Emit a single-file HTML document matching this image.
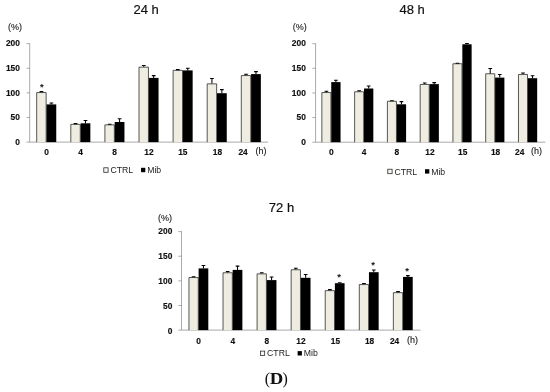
<!DOCTYPE html>
<html><head><meta charset="utf-8"><title>Figure D</title>
<style>
html,body{margin:0;padding:0;background:#fff;}
body{width:550px;height:392px;overflow:hidden;}
svg{display:block;font-family:"Liberation Sans", sans-serif;}
</style></head><body>
<svg width="550" height="392" viewBox="0 0 550 392">
<rect width="550" height="392" fill="#fff"/>
<text x="146.1" y="14.3" font-size="13" text-anchor="middle" fill="#111" stroke="#111" stroke-width="0.2">24 h</text>
<text x="14.9" y="30.3" font-size="9" text-anchor="middle" fill="#1a1a1a" stroke="#1a1a1a" stroke-width="0.12">(%)</text>
<path d="M29.7 43.30V142.1H268.2" fill="none" stroke="#8f8f8f" stroke-width="0.75"/>
<path d="M26.50 142.10H29.7" stroke="#8f8f8f" stroke-width="0.75"/>
<text x="19.9" y="145.20" font-size="8.4" font-weight="bold" text-anchor="end" fill="#111" stroke="#111" stroke-width="0.15">0</text>
<path d="M26.50 117.47H29.7" stroke="#8f8f8f" stroke-width="0.75"/>
<text x="19.9" y="120.35" font-size="8.4" font-weight="bold" text-anchor="end" fill="#111" stroke="#111" stroke-width="0.15">50</text>
<path d="M26.50 92.85H29.7" stroke="#8f8f8f" stroke-width="0.75"/>
<text x="19.9" y="95.50" font-size="8.4" font-weight="bold" text-anchor="end" fill="#111" stroke="#111" stroke-width="0.15">100</text>
<path d="M26.50 68.22H29.7" stroke="#8f8f8f" stroke-width="0.75"/>
<text x="19.9" y="70.65" font-size="8.4" font-weight="bold" text-anchor="end" fill="#111" stroke="#111" stroke-width="0.15">150</text>
<path d="M26.50 43.60H29.7" stroke="#8f8f8f" stroke-width="0.75"/>
<text x="19.9" y="45.80" font-size="8.4" font-weight="bold" text-anchor="end" fill="#111" stroke="#111" stroke-width="0.15">200</text>
<path d="M36.70 142.10V92.55H46.15V142.10" fill="#efede2" stroke="#222" stroke-width="0.75"/>
<rect x="46.50" y="104.40" width="9.75" height="37.70" fill="#000"/>
<path d="M41.43 92.20V91.60M39.58 91.60H43.28" stroke="#000" stroke-width="1.05" fill="none"/>
<path d="M51.38 104.40V102.90M49.52 102.90H53.23" stroke="#000" stroke-width="1.05" fill="none"/>
<text x="46.50" y="155.1" font-size="8.4" font-weight="bold" text-anchor="middle" fill="#111" stroke="#111" stroke-width="0.15">0</text>
<path d="M70.80 142.10V124.35H80.25V142.10" fill="#efede2" stroke="#222" stroke-width="0.75"/>
<rect x="80.60" y="123.30" width="9.75" height="18.80" fill="#000"/>
<path d="M75.53 124.00V123.60M73.68 123.60H77.38" stroke="#000" stroke-width="1.05" fill="none"/>
<path d="M85.48 123.30V120.50M83.63 120.50H87.33" stroke="#000" stroke-width="1.05" fill="none"/>
<text x="80.60" y="155.1" font-size="8.4" font-weight="bold" text-anchor="middle" fill="#111" stroke="#111" stroke-width="0.15">4</text>
<path d="M104.90 142.10V124.85H114.35V142.10" fill="#efede2" stroke="#222" stroke-width="0.75"/>
<rect x="114.70" y="122.00" width="9.75" height="20.10" fill="#000"/>
<path d="M109.63 124.50V124.20M107.78 124.20H111.48" stroke="#000" stroke-width="1.05" fill="none"/>
<path d="M119.58 122.00V118.70M117.73 118.70H121.43" stroke="#000" stroke-width="1.05" fill="none"/>
<text x="114.60" y="155.1" font-size="8.4" font-weight="bold" text-anchor="middle" fill="#111" stroke="#111" stroke-width="0.15">8</text>
<path d="M139.00 142.10V67.15H148.45V142.10" fill="#efede2" stroke="#222" stroke-width="0.75"/>
<rect x="148.80" y="77.90" width="9.75" height="64.20" fill="#000"/>
<path d="M143.72 66.80V65.50M141.88 65.50H145.57" stroke="#000" stroke-width="1.05" fill="none"/>
<path d="M153.68 77.90V75.60M151.83 75.60H155.53" stroke="#000" stroke-width="1.05" fill="none"/>
<text x="149.00" y="155.1" font-size="8.4" font-weight="bold" text-anchor="middle" fill="#111" stroke="#111" stroke-width="0.15">12</text>
<path d="M173.10 142.10V70.35H182.55V142.10" fill="#efede2" stroke="#222" stroke-width="0.75"/>
<rect x="182.90" y="70.40" width="9.75" height="71.70" fill="#000"/>
<path d="M177.82 70.00V69.60M175.97 69.60H179.67" stroke="#000" stroke-width="1.05" fill="none"/>
<path d="M187.78 70.40V68.20M185.93 68.20H189.62" stroke="#000" stroke-width="1.05" fill="none"/>
<text x="182.80" y="155.1" font-size="8.4" font-weight="bold" text-anchor="middle" fill="#111" stroke="#111" stroke-width="0.15">15</text>
<path d="M207.20 142.10V83.85H216.65V142.10" fill="#efede2" stroke="#222" stroke-width="0.75"/>
<rect x="217.00" y="93.20" width="9.75" height="48.90" fill="#000"/>
<path d="M211.92 83.50V78.40M210.07 78.40H213.77" stroke="#000" stroke-width="1.05" fill="none"/>
<path d="M221.88 93.20V89.60M220.03 89.60H223.72" stroke="#000" stroke-width="1.05" fill="none"/>
<text x="217.40" y="155.1" font-size="8.4" font-weight="bold" text-anchor="middle" fill="#111" stroke="#111" stroke-width="0.15">18</text>
<path d="M241.30 142.10V75.55H250.75V142.10" fill="#efede2" stroke="#222" stroke-width="0.75"/>
<rect x="251.10" y="74.10" width="9.75" height="68.00" fill="#000"/>
<path d="M246.03 75.20V74.20M244.18 74.20H247.88" stroke="#000" stroke-width="1.05" fill="none"/>
<path d="M255.98 74.10V71.60M254.13 71.60H257.83" stroke="#000" stroke-width="1.05" fill="none"/>
<text x="243.10" y="155.1" font-size="8.4" font-weight="bold" text-anchor="middle" fill="#111" stroke="#111" stroke-width="0.15">24</text>
<text x="261" y="153.9" font-size="9" text-anchor="middle" fill="#1a1a1a" stroke="#1a1a1a" stroke-width="0.12">(h)</text>
<text x="41.8" y="90.2" font-size="9.5" font-weight="bold" text-anchor="middle" fill="#111">*</text>
<rect x="103.8" y="167.8" width="4.3" height="4.5" fill="#f6f5ee" stroke="#222" stroke-width="0.75"/>
<text x="110.5" y="173.15" font-size="8.7" fill="#222">CTRL</text>
<rect x="141.0" y="167.8" width="4.3" height="4.4" fill="#000"/>
<text x="147.2" y="173.15" font-size="8.7" fill="#222">Mib</text>
<text x="412.1" y="14.3" font-size="13" text-anchor="middle" fill="#111" stroke="#111" stroke-width="0.2">48 h</text>
<text x="299.8" y="30.3" font-size="9" text-anchor="middle" fill="#1a1a1a" stroke="#1a1a1a" stroke-width="0.12">(%)</text>
<path d="M315.6 43.40V142.2H545.5" fill="none" stroke="#8f8f8f" stroke-width="0.75"/>
<path d="M312.40 142.20H315.6" stroke="#8f8f8f" stroke-width="0.75"/>
<text x="305.8" y="145.30" font-size="8.4" font-weight="bold" text-anchor="end" fill="#111" stroke="#111" stroke-width="0.15">0</text>
<path d="M312.40 117.57H315.6" stroke="#8f8f8f" stroke-width="0.75"/>
<text x="305.8" y="120.45" font-size="8.4" font-weight="bold" text-anchor="end" fill="#111" stroke="#111" stroke-width="0.15">50</text>
<path d="M312.40 92.95H315.6" stroke="#8f8f8f" stroke-width="0.75"/>
<text x="305.8" y="95.60" font-size="8.4" font-weight="bold" text-anchor="end" fill="#111" stroke="#111" stroke-width="0.15">100</text>
<path d="M312.40 68.32H315.6" stroke="#8f8f8f" stroke-width="0.75"/>
<text x="305.8" y="70.75" font-size="8.4" font-weight="bold" text-anchor="end" fill="#111" stroke="#111" stroke-width="0.15">150</text>
<path d="M312.40 43.70H315.6" stroke="#8f8f8f" stroke-width="0.75"/>
<text x="305.8" y="45.90" font-size="8.4" font-weight="bold" text-anchor="end" fill="#111" stroke="#111" stroke-width="0.15">200</text>
<path d="M321.85 142.20V92.55H330.90V142.20" fill="#efede2" stroke="#222" stroke-width="0.75"/>
<rect x="331.25" y="82.10" width="9.30" height="60.10" fill="#000"/>
<path d="M326.38 92.20V91.30M324.52 91.30H328.23" stroke="#000" stroke-width="1.05" fill="none"/>
<path d="M335.90 82.10V80.30M334.05 80.30H337.75" stroke="#000" stroke-width="1.05" fill="none"/>
<text x="331.30" y="155.4" font-size="8.4" font-weight="bold" text-anchor="middle" fill="#111" stroke="#111" stroke-width="0.15">0</text>
<path d="M354.62 142.20V91.75H363.67V142.20" fill="#efede2" stroke="#222" stroke-width="0.75"/>
<rect x="364.02" y="88.50" width="9.30" height="53.70" fill="#000"/>
<path d="M359.14 91.40V90.80M357.29 90.80H361.00" stroke="#000" stroke-width="1.05" fill="none"/>
<path d="M368.67 88.50V86.00M366.82 86.00H370.52" stroke="#000" stroke-width="1.05" fill="none"/>
<text x="364.20" y="155.4" font-size="8.4" font-weight="bold" text-anchor="middle" fill="#111" stroke="#111" stroke-width="0.15">4</text>
<path d="M387.39 142.20V101.25H396.44V142.20" fill="#efede2" stroke="#222" stroke-width="0.75"/>
<rect x="396.79" y="104.30" width="9.30" height="37.90" fill="#000"/>
<path d="M391.92 100.90V100.70M390.06 100.70H393.77" stroke="#000" stroke-width="1.05" fill="none"/>
<path d="M401.44 104.30V101.60M399.59 101.60H403.29" stroke="#000" stroke-width="1.05" fill="none"/>
<text x="396.90" y="155.4" font-size="8.4" font-weight="bold" text-anchor="middle" fill="#111" stroke="#111" stroke-width="0.15">8</text>
<path d="M420.16 142.20V84.45H429.21V142.20" fill="#efede2" stroke="#222" stroke-width="0.75"/>
<rect x="429.56" y="84.10" width="9.30" height="58.10" fill="#000"/>
<path d="M424.69 84.10V82.90M422.83 82.90H426.54" stroke="#000" stroke-width="1.05" fill="none"/>
<path d="M434.21 84.10V82.60M432.36 82.60H436.06" stroke="#000" stroke-width="1.05" fill="none"/>
<text x="429.90" y="155.4" font-size="8.4" font-weight="bold" text-anchor="middle" fill="#111" stroke="#111" stroke-width="0.15">12</text>
<path d="M452.93 142.20V63.75H461.98V142.20" fill="#efede2" stroke="#222" stroke-width="0.75"/>
<rect x="462.33" y="44.30" width="9.30" height="97.90" fill="#000"/>
<path d="M457.46 63.40V63.20M455.61 63.20H459.31" stroke="#000" stroke-width="1.05" fill="none"/>
<path d="M466.98 44.30V43.40M465.13 43.40H468.83" stroke="#000" stroke-width="1.05" fill="none"/>
<text x="462.70" y="155.4" font-size="8.4" font-weight="bold" text-anchor="middle" fill="#111" stroke="#111" stroke-width="0.15">15</text>
<path d="M485.70 142.20V73.75H494.75V142.20" fill="#efede2" stroke="#222" stroke-width="0.75"/>
<rect x="495.10" y="77.60" width="9.30" height="64.60" fill="#000"/>
<path d="M490.23 73.40V68.50M488.38 68.50H492.08" stroke="#000" stroke-width="1.05" fill="none"/>
<path d="M499.75 77.60V74.50M497.90 74.50H501.60" stroke="#000" stroke-width="1.05" fill="none"/>
<text x="495.60" y="155.4" font-size="8.4" font-weight="bold" text-anchor="middle" fill="#111" stroke="#111" stroke-width="0.15">18</text>
<path d="M518.47 142.20V74.45H527.52V142.20" fill="#efede2" stroke="#222" stroke-width="0.75"/>
<rect x="527.87" y="78.20" width="9.30" height="64.00" fill="#000"/>
<path d="M523.00 74.10V72.90M521.14 72.90H524.85" stroke="#000" stroke-width="1.05" fill="none"/>
<path d="M532.52 78.20V75.70M530.67 75.70H534.37" stroke="#000" stroke-width="1.05" fill="none"/>
<text x="519.70" y="155.4" font-size="8.4" font-weight="bold" text-anchor="middle" fill="#111" stroke="#111" stroke-width="0.15">24</text>
<text x="536.4" y="154.1" font-size="9" text-anchor="middle" fill="#1a1a1a" stroke="#1a1a1a" stroke-width="0.12">(h)</text>
<rect x="387.8" y="169.20000000000002" width="4.3" height="4.5" fill="#f6f5ee" stroke="#222" stroke-width="0.75"/>
<text x="394.5" y="174.55" font-size="8.7" fill="#222">CTRL</text>
<rect x="425.0" y="169.20000000000002" width="4.3" height="4.4" fill="#000"/>
<text x="431.20000000000005" y="174.55" font-size="8.7" fill="#222">Mib</text>
<text x="281.5" y="212" font-size="13" text-anchor="middle" fill="#111" stroke="#111" stroke-width="0.2">72 h</text>
<text x="164.9" y="221.3" font-size="9" text-anchor="middle" fill="#1a1a1a" stroke="#1a1a1a" stroke-width="0.12">(%)</text>
<path d="M181.5 231.30V330.1H420.5" fill="none" stroke="#8f8f8f" stroke-width="0.75"/>
<path d="M178.30 330.10H181.5" stroke="#8f8f8f" stroke-width="0.75"/>
<text x="172.3" y="333.80" font-size="8.4" font-weight="bold" text-anchor="end" fill="#111" stroke="#111" stroke-width="0.15">0</text>
<path d="M178.30 305.48H181.5" stroke="#8f8f8f" stroke-width="0.75"/>
<text x="172.3" y="308.95" font-size="8.4" font-weight="bold" text-anchor="end" fill="#111" stroke="#111" stroke-width="0.15">50</text>
<path d="M178.30 280.85H181.5" stroke="#8f8f8f" stroke-width="0.75"/>
<text x="172.3" y="284.10" font-size="8.4" font-weight="bold" text-anchor="end" fill="#111" stroke="#111" stroke-width="0.15">100</text>
<path d="M178.30 256.23H181.5" stroke="#8f8f8f" stroke-width="0.75"/>
<text x="172.3" y="259.25" font-size="8.4" font-weight="bold" text-anchor="end" fill="#111" stroke="#111" stroke-width="0.15">150</text>
<path d="M178.30 231.60H181.5" stroke="#8f8f8f" stroke-width="0.75"/>
<text x="172.3" y="234.40" font-size="8.4" font-weight="bold" text-anchor="end" fill="#111" stroke="#111" stroke-width="0.15">200</text>
<path d="M188.95 330.10V277.55H198.25V330.10" fill="#efede2" stroke="#222" stroke-width="0.75"/>
<rect x="198.60" y="268.40" width="9.70" height="61.70" fill="#000"/>
<path d="M193.60 277.20V276.80M191.75 276.80H195.45" stroke="#000" stroke-width="1.05" fill="none"/>
<path d="M203.45 268.40V265.50M201.60 265.50H205.30" stroke="#000" stroke-width="1.05" fill="none"/>
<text x="198.50" y="343.8" font-size="8.4" font-weight="bold" text-anchor="middle" fill="#111" stroke="#111" stroke-width="0.15">0</text>
<path d="M223.02 330.10V272.75H232.32V330.10" fill="#efede2" stroke="#222" stroke-width="0.75"/>
<rect x="232.67" y="269.90" width="9.70" height="60.20" fill="#000"/>
<path d="M227.67 272.40V271.40M225.82 271.40H229.52" stroke="#000" stroke-width="1.05" fill="none"/>
<path d="M237.52 269.90V266.10M235.67 266.10H239.37" stroke="#000" stroke-width="1.05" fill="none"/>
<text x="232.80" y="343.8" font-size="8.4" font-weight="bold" text-anchor="middle" fill="#111" stroke="#111" stroke-width="0.15">4</text>
<path d="M257.09 330.10V273.85H266.39V330.10" fill="#efede2" stroke="#222" stroke-width="0.75"/>
<rect x="266.74" y="280.10" width="9.70" height="50.00" fill="#000"/>
<path d="M261.74 273.50V272.70M259.89 272.70H263.59" stroke="#000" stroke-width="1.05" fill="none"/>
<path d="M271.59 280.10V277.00M269.74 277.00H273.44" stroke="#000" stroke-width="1.05" fill="none"/>
<text x="266.80" y="343.8" font-size="8.4" font-weight="bold" text-anchor="middle" fill="#111" stroke="#111" stroke-width="0.15">8</text>
<path d="M291.16 330.10V269.75H300.46V330.10" fill="#efede2" stroke="#222" stroke-width="0.75"/>
<rect x="300.81" y="277.80" width="9.70" height="52.30" fill="#000"/>
<path d="M295.81 269.40V268.20M293.96 268.20H297.66" stroke="#000" stroke-width="1.05" fill="none"/>
<path d="M305.66 277.80V274.40M303.81 274.40H307.51" stroke="#000" stroke-width="1.05" fill="none"/>
<text x="300.90" y="343.8" font-size="8.4" font-weight="bold" text-anchor="middle" fill="#111" stroke="#111" stroke-width="0.15">12</text>
<path d="M325.23 330.10V290.65H334.53V330.10" fill="#efede2" stroke="#222" stroke-width="0.75"/>
<rect x="334.88" y="283.20" width="9.70" height="46.90" fill="#000"/>
<path d="M329.88 290.30V289.60M328.03 289.60H331.73" stroke="#000" stroke-width="1.05" fill="none"/>
<path d="M339.73 283.20V282.70M337.88 282.70H341.58" stroke="#000" stroke-width="1.05" fill="none"/>
<text x="335.40" y="343.8" font-size="8.4" font-weight="bold" text-anchor="middle" fill="#111" stroke="#111" stroke-width="0.15">15</text>
<path d="M359.30 330.10V284.55H368.60V330.10" fill="#efede2" stroke="#222" stroke-width="0.75"/>
<rect x="368.95" y="272.20" width="9.70" height="57.90" fill="#000"/>
<path d="M363.95 284.20V283.40M362.10 283.40H365.80" stroke="#000" stroke-width="1.05" fill="none"/>
<path d="M373.80 272.20V269.90M371.95 269.90H375.65" stroke="#000" stroke-width="1.05" fill="none"/>
<text x="369.60" y="343.8" font-size="8.4" font-weight="bold" text-anchor="middle" fill="#111" stroke="#111" stroke-width="0.15">18</text>
<path d="M393.37 330.10V292.65H402.67V330.10" fill="#efede2" stroke="#222" stroke-width="0.75"/>
<rect x="403.02" y="276.90" width="9.70" height="53.20" fill="#000"/>
<path d="M398.02 292.30V291.60M396.17 291.60H399.87" stroke="#000" stroke-width="1.05" fill="none"/>
<path d="M407.87 276.90V275.60M406.02 275.60H409.72" stroke="#000" stroke-width="1.05" fill="none"/>
<text x="394.60" y="343.8" font-size="8.4" font-weight="bold" text-anchor="middle" fill="#111" stroke="#111" stroke-width="0.15">24</text>
<text x="412.5" y="342.6" font-size="9" text-anchor="middle" fill="#1a1a1a" stroke="#1a1a1a" stroke-width="0.12">(h)</text>
<text x="339.2" y="279.7" font-size="9.5" font-weight="bold" text-anchor="middle" fill="#111">*</text>
<text x="373.1" y="267.59999999999997" font-size="9.5" font-weight="bold" text-anchor="middle" fill="#111">*</text>
<text x="407.2" y="274.2" font-size="9.5" font-weight="bold" text-anchor="middle" fill="#111">*</text>
<rect x="260.4" y="351.1" width="4.3" height="4.5" fill="#f6f5ee" stroke="#222" stroke-width="0.75"/>
<text x="267.09999999999997" y="356.45" font-size="8.7" fill="#222">CTRL</text>
<rect x="297.59999999999997" y="351.1" width="4.3" height="4.4" fill="#000"/>
<text x="303.8" y="356.45" font-size="8.7" fill="#222">Mib</text>
<g font-family="'Liberation Serif', serif" font-size="16" fill="#111"><text x="264.75" y="383.6">(</text><text transform="translate(269.85 383.6) scale(1.17 1)" font-weight="bold">D</text><text x="282.5" y="383.6">)</text></g>
</svg>
</body></html>
